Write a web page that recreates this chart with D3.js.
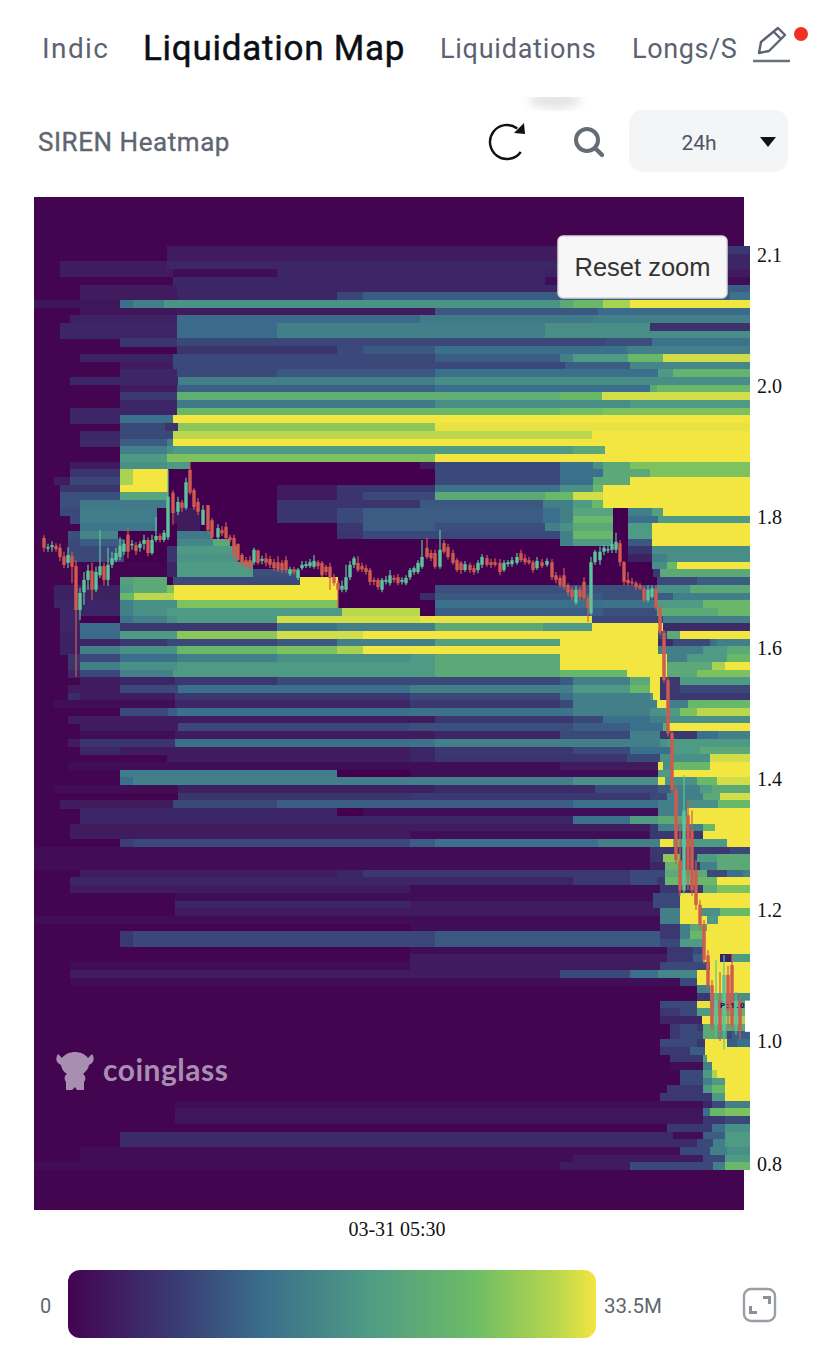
<!DOCTYPE html>
<html><head><meta charset="utf-8">
<script src="https://cdn.jsdelivr.net/npm/d3@7"></script>
<style>html,body{margin:0;padding:0;background:#fff}svg{display:block}text{font-family:Roboto,sans-serif}</style>
</head><body><svg id="c" width="828" height="1364"></svg>
<script>
// Scale end of the colour bar, in millions of USD
const maxValue = 33.5;
const colorStops = [0, 6.7, 12.4, 19.1, 25.8, 30.8, 33.5];
const colorRange = ["#430450", "#3a3a72", "#3a6e8c", "#4f9b84", "#6dbc66", "#b5d64e", "#f3e640"];
const rowCount = 120;
const slotCount = 716;
// y axis labels and the price-level row they sit on
const tickLabels = ["2.1", "2.0", "1.8", "1.6", "1.4", "1.2", "1.0", "0.8"];
const tickRows = [1, 18, 35, 52, 69, 86, 103, 119];
const timeLabel = "03-31 05:30";
const tabs = ["Indic", "Liquidation Map", "Liquidations", "Longs/Sl"];
// Liquidation value per price level: [start time slot, value in M] runs, top row first
const heatRows = [
[[133,3],[693,6.5]],
[[133,3],[693,4.5]],
[[26,3],[133,4.5]],
[[26,3],[139,1.5],[243,4.5],[511,4],[693,3]],
[[139,4.5],[511,1.5],[693,1.5]],
[[46,3],[143,4.5],[624,8.5],[693,10.5]],
[[46,3],[144,4.5],[303,8],[329,10.5],[696,13]],
[[0,2],[86,12.5],[99,15],[130,18],[526,22],[539,25],[569,30],[596,33.5]],
[[46,2],[143,3],[401,10],[564,12]],
[[36,4],[143,12],[386,14],[559,15]],
[[26,4.5],[143,12],[243,15],[511,17],[616,5.5]],
[[26,4.5],[143,12],[243,15],[511,17]],
[[86,6],[143,8],[571,9],[618,13]],
[[143,6],[303,8.5],[329,10],[401,12.5],[593,15]],
[[46,3.5],[139,8.5],[401,10.5],[526,15],[539,19],[594,25],[629,32]],
[[86,3],[139,8.5],[531,10.5],[596,16]],
[[86,4.5],[143,8.5],[243,10],[401,12.5],[624,19],[639,24]],
[[36,4.5],[144,15],[401,17]],
[[86,3],[143,11],[401,12.5],[616,22],[623,25]],
[[86,6.5],[143,23],[526,25],[568,32]],
[[86,4.5],[143,14],[401,17],[596,19]],
[[36,4.5],[143,25],[526,26],[569,27]],
[[36,4.5],[86,12.5],[139,33.5]],
[[86,8.5],[131,6],[144,28],[401,33]],
[[46,4.5],[86,8.5],[139,31],[558,33.5]],
[[46,5],[86,10.5],[133,15],[139,33.5]],
[[86,15],[133,17.5],[139,19],[539,22],[571,33.5]],
[[86,19],[133,27],[401,33.5]],
[[36,3],[86,17.5],[133,19],[156,0],[386,3],[401,8.5],[526,12.5],[559,17.5],[569,22],[596,27]],
[[36,6],[86,30],[99,33.5],[134,0],[401,8.5],[526,12.5],[569,22],[616,27]],
[[20,3],[36,8],[86,30],[99,33.5],[134,0],[401,8.5],[526,12.5],[559,22],[596,33.5]],
[[26,6],[86,33.5],[134,0],[243,3],[303,6],[401,13],[526,17.5],[559,25],[569,33.5]],
[[26,9],[86,21],[134,0],[243,3],[303,6],[329,8.5],[401,22],[511,25],[539,32],[569,33.5]],
[[26,9],[46,14],[134,0],[243,6],[386,10],[509,15],[539,19],[558,25],[569,33.5]],
[[26,8.5],[46,14.5],[123,0],[140,3],[166,0],[243,6],[303,8.5],[329,10.5],[509,12.5],[526,15],[539,21],[579,0],[594,15],[618,20],[629,33.5]],
[[36,8.5],[46,14.5],[123,0],[140,3],[166,0],[243,6],[303,8.5],[329,10.5],[509,12.5],[526,15],[539,25],[579,0],[594,12.5],[624,19]],
[[46,13.5],[123,0],[143,3],[166,0],[303,6.5],[329,10.5],[401,9],[511,15],[526,17.5],[539,22],[579,0],[594,19],[618,33.5]],
[[34,9],[46,15.5],[84,0],[143,14],[178,0],[303,6],[329,8.5],[526,15],[539,25],[579,0],[594,19],[618,33.5]],
[[34,8.5],[46,10.5],[90,0],[143,16],[179,22],[196,0],[526,15],[539,19],[579,0],[594,10],[618,33.5]],
[[34,8.5],[90,0],[133,6],[143,19],[203,0],[594,6],[618,17]],
[[34,8.5],[90,0],[133,6],[143,18],[203,0],[594,4],[618,15],[633,17]],
[[133,4.5],[143,19],[219,0],[618,17],[633,25],[643,33.5]],
[[133,4.5],[143,19],[219,9],[266,0],[619,6.5],[626,22]],
[[86,20],[99,22],[133,0],[139,8.5],[266,33.5],[304,0],[623,8.5],[663,10.5]],
[[20,3.5],[86,19],[99,22],[133,27],[140,33.5],[304,0],[401,9],[623,17.5],[656,22]],
[[20,3.5],[86,25],[100,31],[140,33.5],[304,0],[386,5],[401,10],[569,9],[624,10.5],[639,15]],
[[20,4.5],[86,15],[99,17.5],[143,27],[304,0],[401,12.5],[569,13],[623,19],[669,25]],
[[26,4.5],[86,15],[99,17.5],[133,19],[308,31],[386,0],[401,10.5],[569,9],[623,22],[684,25]],
[[26,4.5],[46,0],[86,13],[99,15],[133,17.5],[143,19],[243,32],[386,33],[558,8],[629,15]],
[[26,4.5],[46,12],[86,6.5],[243,13],[303,15],[401,22],[509,19],[558,33.5],[629,5]],
[[26,3.5],[46,12],[86,19],[143,28],[243,32],[329,33.5],[624,8],[633,22],[646,33.5]],
[[26,3.5],[46,4.5],[86,6.5],[133,8.5],[243,10],[303,15],[401,20],[526,33.5],[624,5],[639,8.5],[676,12.5],[683,15]],
[[26,4],[46,15],[86,17.5],[143,25],[243,27],[303,30],[329,33.5],[624,15],[669,19],[693,22]],
[[34,6],[46,8.5],[86,12.5],[143,15],[243,17.5],[376,19],[401,22],[526,33.5],[633,15],[653,19],[693,25]],
[[34,6],[46,15],[86,17.5],[143,19],[401,22],[526,33.5],[633,22],[678,30],[691,33.5]],
[[34,4.5],[46,8.5],[86,15],[139,19],[401,22],[526,25],[593,33.5],[633,22],[663,27]],
[[46,3],[86,4.5],[141,6.5],[243,8.5],[526,10.5],[539,15],[596,22],[616,33.5],[626,6.5],[646,19]],
[[34,3],[86,8.5],[144,12.5],[376,15],[539,19],[596,25],[616,33.5],[626,6.5],[646,8]],
[[34,5],[46,3],[141,6.5],[376,8.5],[526,12.5],[539,15],[616,17.5],[619,33.5],[626,6.5]],
[[20,1.5],[141,4.5],[376,6.5],[526,8.5],[539,15],[623,33.5],[633,15],[654,25]],
[[86,8.5],[134,10.5],[143,12.5],[376,13],[539,15],[616,17.5],[631,19],[646,27],[663,31]],
[[34,3],[401,6.5],[539,8.5],[569,12.5],[616,15],[633,17.5]],
[[46,3],[144,8.5],[376,9],[539,10.5],[596,12.5],[629,22],[633,33.5]],
[[46,1.5],[141,3],[401,4.5],[526,8.5],[596,15],[626,6.5],[663,12.5],[684,15]],
[[34,3],[46,6],[141,12.5],[376,13],[401,15],[626,17.5],[633,19]],
[[46,4.5],[86,3],[376,4.5],[401,6.5],[539,8.5],[596,12.5],[639,19],[666,22]],
[[133,3],[376,4.5],[401,6],[593,8.5],[626,17.5],[676,32]],
[[34,1.5],[526,3],[624,33],[629,17],[639,25],[676,33.5]],
[[86,14.5],[303,0],[376,1.5],[624,19],[639,33.5]],
[[86,12.5],[99,15],[539,17.5],[624,33],[631,17.5],[663,25],[683,32]],
[[20,1],[144,4],[401,5],[561,8.5],[624,10.5],[639,15],[666,19],[678,22]],
[[144,6],[376,6.5],[616,8.5],[633,15],[669,22],[686,32]],
[[26,3],[139,8.5],[243,10.5],[539,12.5],[624,15],[653,17.5],[684,25]],
[[46,4.5],[303,0],[329,1.5],[624,15],[653,33.5]],
[[46,4.5],[539,12.5],[596,19],[624,22],[653,33.5]],
[[36,3],[616,6.5],[624,15],[669,25],[681,33.5]],
[[36,3],[376,1.5],[616,6.5],[669,33.5]],
[[86,7],[99,8.5],[376,10.5],[401,12.5],[564,15],[626,33.5],[639,25],[646,19],[693,33.5]],
[[0,1],[616,6.5],[696,8.5]],
[[0,1],[616,6],[629,28],[646,6.5],[663,19],[683,22]],
[[0,1],[616,4.5],[631,24],[648,6.5],[666,15],[683,22]],
[[46,3],[303,4.5],[329,6.5],[596,8.5],[631,22],[673,8.5],[693,12.5],[709,15]],
[[36,4.5],[539,6.5],[596,8.5],[623,6.5],[631,25],[683,33.5]],
[[36,3],[376,1.5],[626,6.5],[669,22],[683,27]],
[[141,1.5],[619,8.5],[646,33.5]],
[[141,4.5],[376,3],[619,8.5],[646,33.5]],
[[141,3],[626,15],[646,33.5],[666,17.5],[686,25]],
[[0,1],[376,1.5],[626,15],[646,33.5],[673,19],[684,33.5]],
[[376,1.5],[626,6.5],[646,15],[656,22],[673,33.5]],
[[86,6.5],[99,8],[401,10],[626,6.5],[646,15],[656,25],[669,33.5]],
[[86,6.5],[99,8],[401,10],[626,8.5],[646,19],[669,33.5]],
[[376,1.5],[633,6.5],[659,8.5],[669,33.5]],
[[376,3],[633,6.5],[659,10.5],[669,33.5],[686,4],[698,19]],
[[36,1.5],[376,3],[626,8.5],[676,33.5]],
[[36,3],[526,8.5],[596,12.5],[624,16],[663,33.5]],
[[36,1.5],[646,8.5],[663,33.5]],
[[663,15],[676,33.5]],
[[663,6.5],[676,22],[693,17]],
[[626,8.5],[663,33],[676,20],[711,null]],
[[626,6.5],[646,8.5],[663,19],[676,24],[711,null]],
[[626,4.5],[668,33.5],[676,30],[711,null]],
[[636,6.5],[646,8.5],[663,6.5],[669,22],[711,null]],
[[636,6.5],[646,8.5],[669,22],[683,19],[693,8],[698,10.5]],
[[626,8.5],[663,6.5],[671,33.5],[693,10.5],[703,12.5]],
[[626,6.5],[656,10.5],[671,33.5]],
[[636,6.5],[669,19],[673,33.5]],
[[636,0.5],[669,15],[678,33.5]],
[[646,8.5],[669,19],[678,30],[683,33.5]],
[[646,8.5],[669,15],[678,19],[691,33.5]],
[[633,6.5],[669,19],[678,25],[691,33.5]],
[[626,6.5],[678,19],[691,33.5]],
[[141,1.5],[669,4.5],[678,8.5],[691,15]],
[[141,2],[669,12.5],[676,25],[691,27]],
[[141,2],[669,6.5],[691,8.5]],
[[633,6.5],[678,12.5],[691,17.5]],
[[86,5],[639,0.5],[669,10.5],[691,19]],
[[86,5],[663,8.5],[679,15],[691,19]],
[[46,1],[646,8.5],[676,15],[693,17.5]],
[[46,1.5],[539,3],[669,8.5],[691,19]],
[[0,1],[526,3],[596,8.5],[679,15],[691,25]]
];
// Price candles: [time slot, open, close, high, low]
const candles = [
[10,1.768,1.753,1.772,1.747],[14,1.753,1.754,1.759,1.747],[18,1.754,1.757,1.763,1.747],[22,1.756,1.751,1.760,1.747],
[26,1.753,1.739,1.759,1.733],[30,1.740,1.727,1.747,1.722],[34,1.730,1.742,1.754,1.722],[38,1.740,1.724,1.747,1.699],
[42,1.725,1.658,1.734,1.556],[46,1.658,1.684,1.692,1.643],[50,1.685,1.704,1.716,1.666],[54,1.704,1.718,1.727,1.689],
[58,1.718,1.689,1.730,1.673],[62,1.689,1.716,1.724,1.685],[66,1.711,1.725,1.780,1.707],[70,1.725,1.704,1.730,1.696],
[74,1.704,1.727,1.753,1.695],[78,1.727,1.737,1.747,1.722],[82,1.734,1.745,1.753,1.731],[86,1.739,1.756,1.769,1.734],
[90,1.747,1.759,1.765,1.742],[94,1.773,1.747,1.785,1.737],[98,1.757,1.759,1.765,1.750],[102,1.757,1.748,1.762,1.742],
[106,1.753,1.759,1.763,1.747],[110,1.759,1.765,1.773,1.750],[114,1.765,1.745,1.769,1.740],[118,1.745,1.765,1.773,1.742],
[122,1.765,1.771,1.800,1.762],[126,1.771,1.765,1.775,1.761],[130,1.765,1.776,1.780,1.762],[134,1.769,1.831,1.872,1.765],
[139,1.837,1.806,1.841,1.788],[144,1.808,1.823,1.831,1.803],[148,1.822,1.814,1.826,1.808],[152,1.814,1.853,1.860,1.811],
[156,1.872,1.837,1.884,1.834],[160,1.841,1.815,1.844,1.811],[164,1.823,1.808,1.829,1.803],[169,1.788,1.811,1.818,1.788],
[174,1.818,1.780,1.818,1.777],[178,1.795,1.769,1.798,1.765],[184,1.769,1.783,1.789,1.765],[188,1.780,1.775,1.786,1.771],
[192,1.785,1.768,1.792,1.763],[196,1.769,1.765,1.773,1.761],[200,1.768,1.742,1.773,1.737],[204,1.759,1.734,1.759,1.730],
[208,1.742,1.730,1.745,1.725],[212,1.734,1.725,1.739,1.721],[216,1.734,1.722,1.740,1.719],[220,1.731,1.750,1.753,1.727],
[224,1.749,1.730,1.750,1.727],[228,1.733,1.736,1.741,1.728],[232,1.737,1.730,1.745,1.725],[236,1.736,1.727,1.741,1.722],
[240,1.731,1.722,1.736,1.718],[244,1.731,1.720,1.740,1.716],[248,1.730,1.719,1.734,1.715],[252,1.734,1.719,1.740,1.714],
[256,1.713,1.720,1.724,1.710],[260,1.720,1.716,1.724,1.712],[264,1.707,1.719,1.722,1.704],[268,1.722,1.727,1.733,1.719],
[272,1.725,1.728,1.733,1.722],[276,1.725,1.731,1.736,1.722],[280,1.724,1.733,1.742,1.721],[284,1.731,1.725,1.734,1.720],
[288,1.730,1.711,1.733,1.708],[292,1.724,1.716,1.727,1.711],[296,1.724,1.707,1.730,1.689],[300,1.708,1.699,1.713,1.695],
[304,1.699,1.689,1.703,1.662],[308,1.689,1.695,1.703,1.685],[312,1.689,1.708,1.727,1.685],[316,1.708,1.727,1.733,1.704],
[320,1.727,1.737,1.740,1.722],[324,1.730,1.719,1.740,1.716],[328,1.725,1.720,1.730,1.716],[332,1.722,1.716,1.727,1.712],
[336,1.719,1.701,1.722,1.696],[340,1.704,1.701,1.708,1.696],[344,1.704,1.693,1.707,1.689],[348,1.689,1.704,1.707,1.685],
[352,1.701,1.704,1.710,1.697],[356,1.699,1.711,1.719,1.695],[360,1.707,1.704,1.711,1.700],[364,1.708,1.699,1.713,1.696],
[368,1.701,1.704,1.708,1.697],[372,1.699,1.707,1.711,1.696],[376,1.708,1.719,1.722,1.704],[380,1.716,1.722,1.725,1.712],
[384,1.716,1.730,1.734,1.713],[388,1.724,1.739,1.765,1.721],[393,1.753,1.739,1.768,1.736],[397,1.745,1.737,1.750,1.733],
[401,1.745,1.724,1.750,1.721],[406,1.724,1.750,1.780,1.721],[410,1.760,1.747,1.765,1.744],[414,1.754,1.739,1.759,1.735],
[419,1.745,1.730,1.750,1.727],[423,1.734,1.719,1.737,1.716],[427,1.730,1.719,1.733,1.713],[431,1.719,1.728,1.733,1.716],
[436,1.727,1.719,1.730,1.715],[440,1.722,1.716,1.727,1.712],[444,1.719,1.730,1.734,1.714],[448,1.727,1.739,1.743,1.722],
[453,1.737,1.727,1.742,1.724],[457,1.731,1.727,1.736,1.722],[461,1.731,1.727,1.737,1.724],[466,1.730,1.716,1.736,1.711],
[470,1.719,1.730,1.734,1.716],[474,1.728,1.731,1.734,1.724],[478,1.728,1.734,1.739,1.724],[483,1.730,1.739,1.745,1.727],
[487,1.745,1.734,1.750,1.731],[491,1.737,1.731,1.743,1.727],[495,1.734,1.730,1.739,1.727],[499,1.731,1.719,1.734,1.715],
[503,1.722,1.733,1.739,1.719],[508,1.731,1.725,1.736,1.722],[513,1.727,1.733,1.737,1.724],[518,1.731,1.708,1.736,1.704],
[522,1.711,1.704,1.716,1.699],[526,1.707,1.696,1.711,1.692],[530,1.711,1.693,1.722,1.689],[534,1.696,1.685,1.699,1.680],
[538,1.689,1.678,1.693,1.673],[542,1.669,1.689,1.695,1.666],[546,1.689,1.678,1.693,1.673],[550,1.701,1.676,1.708,1.672],
[554,1.676,1.661,1.681,1.640],[557,1.653,1.731,1.739,1.650],[561,1.731,1.747,1.750,1.727],[566,1.734,1.747,1.755,1.727],
[570,1.747,1.753,1.758,1.742],[574,1.750,1.751,1.756,1.745],[578,1.750,1.759,1.765,1.745],[582,1.750,1.762,1.776,1.745],
[586,1.760,1.731,1.765,1.725],[590,1.731,1.701,1.733,1.696],[594,1.704,1.699,1.716,1.695],[598,1.701,1.699,1.707,1.696],
[602,1.699,1.693,1.702,1.689],[606,1.696,1.691,1.699,1.688],[610,1.691,1.673,1.695,1.670],[614,1.673,1.689,1.696,1.670],
[618,1.678,1.691,1.696,1.675],[622,1.691,1.662,1.696,1.658],[626,1.662,1.623,1.665,1.620],[630,1.623,1.551,1.627,1.547],
[634,1.551,1.470,1.555,1.465],[638,1.470,1.383,1.474,1.378],[642,1.383,1.276,1.390,1.270],[646,1.276,1.230,1.337,1.222],
[650,1.230,1.352,1.406,1.224],[654,1.345,1.261,1.368,1.231],[658,1.322,1.230,1.352,1.222],[662,1.261,1.208,1.276,1.200],
[666,1.208,1.177,1.215,1.170],[670,1.177,1.124,1.185,1.118],[674,1.131,1.085,1.139,1.080],[678,1.085,1.024,1.093,1.016],
[682,1.024,1.062,1.124,1.005],[686,1.062,1.016,1.105,1.000],[690,1.016,1.101,1.131,0.987],[694,1.101,1.047,1.115,1.020],
[698,1.116,1.024,1.133,1.016],[702,1.024,1.062,1.075,1.010],[706,1.062,1.016,1.070,1.003]
];

const svg = d3.select("#c");
const color = d3.scaleLinear().domain(colorStops).range(colorRange).interpolate(d3.interpolateRgb);
const x = d3.scaleLinear().domain([0, slotCount]).range([34, 750]);
const rowY = d3.scaleBand().domain(d3.range(rowCount)).range([246, 1170]).paddingInner(0).paddingOuter(0);
const priceY = d3.scaleLinear().domain([1.8, 1.0]).range([rowY(35) + 1.5, rowY(103) + 2]);

/* ---------- header ---------- */
const tabX = [42, 143, 440, 632], tabSize = [28, 35, 27, 27], tabFill = ["#5c6370", "#0b0e14", "#5c6370", "#5c6370"];
const tabSpacing = [1.4, 0.75, 0.75, 0.6];
const defs = svg.append("defs");
defs.append("clipPath").attr("id", "tabClip").append("rect").attr("x", 0).attr("y", 0).attr("width", 739).attr("height", 100);
defs.append("filter").attr("id", "soft").append("feGaussianBlur").attr("stdDeviation", 0.55);
defs.append("filter").attr("id", "shade").append("feGaussianBlur").attr("stdDeviation", 5);
svg.append("g").attr("clip-path", "url(#tabClip)").selectAll("text").data(tabs).join("text")
  .attr("x", (d, i) => tabX[i]).attr("y", (d, i) => i === 1 ? 60 : 58)
  .attr("font-size", (d, i) => tabSize[i]).attr("font-weight", 400)
  .attr("stroke", (d, i) => i === 1 ? "#0b0e14" : "none").attr("stroke-width", 0.45)
  .attr("letter-spacing", (d, i) => tabSpacing[i])
  .attr("fill", (d, i) => tabFill[i]).text(d => d);
// pencil
svg.append("path").attr("d", "M759 53 L761 42 L778 28 L785 35 L769 51 Z M774 32 L781 39").attr("fill", "none").attr("stroke", "#5c6370").attr("stroke-width", 2.4).attr("stroke-linejoin", "round");
svg.append("line").attr("x1", 753).attr("x2", 790).attr("y1", 61).attr("y2", 61).attr("stroke", "#6b717c").attr("stroke-width", 2.6);
svg.append("circle").attr("cx", 801).attr("cy", 34).attr("r", 7).attr("fill", "#ee3124");
// faint shadow below the tabs
svg.append("ellipse").attr("cx", 555).attr("cy", 100).attr("rx", 26).attr("ry", 9).attr("fill", "#e4e4e4").attr("filter", "url(#shade)");
svg.append("rect").attr("x", 500).attr("y", 80).attr("width", 110).attr("height", 17).attr("fill", "#fff");
svg.append("text").attr("x", 38).attr("y", 151).attr("font-size", 26).attr("stroke", "#5f6670").attr("stroke-width", 0.35).attr("letter-spacing", 0.55).attr("fill", "#5f6670").text("SIREN Heatmap");
// refresh
svg.append("path").attr("d", d3.arc()({innerRadius: 17, outerRadius: 17, startAngle: 2.2, endAngle: Math.PI * 2 + 0.65})).attr("transform", "translate(507,142)").attr("fill", "none").attr("stroke", "#111").attr("stroke-width", 2.4);
svg.append("path").attr("d", "M514 133 L525 134 L524 123 Z").attr("fill", "#111");
// search
svg.append("circle").attr("cx", 587).attr("cy", 140).attr("r", 11).attr("fill", "none").attr("stroke", "#666c76").attr("stroke-width", 4);
svg.append("line").attr("x1", 595).attr("y1", 148).attr("x2", 602).attr("y2", 155).attr("stroke", "#666c76").attr("stroke-width", 4.4).attr("stroke-linecap", "round");
// range picker
svg.append("rect").attr("x", 629).attr("y", 110).attr("width", 159).attr("height", 62).attr("rx", 14).attr("fill", "#f3f5f7");
svg.append("text").attr("x", 699).attr("y", 150).attr("text-anchor", "middle").attr("font-size", 21).attr("fill", "#4f5661").text("24h");
svg.append("path").attr("d", "M760 137 L776 137 L768 147 Z").attr("fill", "#0f1115");

/* ---------- heatmap ---------- */
svg.append("rect").attr("x", 34).attr("y", 197).attr("width", 710).attr("height", 1013).attr("fill", color(0));
const cells = heatRows.flatMap((row, r) => row.map((seg, i) => ({
  r, start: seg[0], end: i + 1 < row.length ? row[i + 1][0] : slotCount, v: seg[1]
})));
const heat = svg.append("g").attr("filter", "url(#soft)");
heat.append("g").selectAll("rect").data(cells.filter(c => c.v !== null)).join("rect")
  .attr("x", d => x(d.start)).attr("y", d => rowY(d.r))
  .attr("width", d => x(d.end) - x(d.start)).attr("height", rowY.bandwidth() + 0.4)
  .attr("fill", d => color(d.v)).attr("shape-rendering", "crispEdges");
// blank notch where the heatmap stops at the last price
svg.append("g").selectAll("rect").data(cells.filter(c => c.v === null)).join("rect")
  .attr("x", d => Math.max(x(d.start), 744)).attr("y", d => rowY(d.r))
  .attr("width", d => x(d.end) - Math.max(x(d.start), 744)).attr("height", rowY.bandwidth() + 0.4).attr("fill", "#fff");

/* ---------- candles ---------- */
const up = "#5cc39a", down = "#cf5a50";
const cg = svg.append("g").attr("filter", "url(#soft)");
cg.selectAll("line").data(candles).join("line")
  .attr("x1", d => x(d[0])).attr("x2", d => x(d[0]))
  .attr("y1", d => priceY(d[3])).attr("y2", d => priceY(d[4]))
  .attr("stroke", d => d[2] >= d[1] ? up : down).attr("stroke-width", 1.2);
cg.selectAll("rect").data(candles).join("rect")
  .attr("x", d => x(d[0]) - 1.7).attr("width", 3.4)
  .attr("y", d => Math.min(priceY(d[1]), priceY(d[2])))
  .attr("height", d => Math.max(1.5, Math.abs(priceY(d[1]) - priceY(d[2]))))
  .attr("fill", d => d[2] >= d[1] ? up : down);
svg.append("text").attr("x", 720).attr("y", 1008).attr("font-size", 8).attr("font-weight", 700).attr("letter-spacing", 1.4).attr("fill", "#2a0a44").text("P:1.0");

/* ---------- y axis and time ---------- */
const yAxis = d3.axisRight(rowY).tickValues(tickRows).tickSize(0).tickPadding(0).tickFormat(r => tickLabels[tickRows.indexOf(r)]);
const yG = svg.append("g").attr("transform", "translate(757,-1.5)").call(yAxis);
yG.select(".domain").remove();
yG.selectAll("text").style("font-family", "'Liberation Serif',serif").attr("font-size", 20).attr("fill", "#111");
svg.append("text").attr("x", 397).attr("y", 1236).attr("text-anchor", "middle").style("font-family", "'Liberation Serif',serif").attr("font-size", 20).attr("fill", "#111").text(timeLabel);

/* ---------- reset zoom button ---------- */
svg.append("rect").attr("x", 558).attr("y", 236).attr("width", 169).attr("height", 62).attr("rx", 5).attr("fill", "#f7f7f7").attr("stroke", "#d8d8d8").attr("stroke-width", 1.5);
svg.append("text").attr("x", 642.5).attr("y", 276).attr("text-anchor", "middle").style("font-family", "'Liberation Sans',Arial,sans-serif").attr("font-size", 25.5).attr("fill", "#333").text("Reset zoom");

/* ---------- watermark ---------- */
svg.append("path").attr("d", "M58 1054 L62 1058 C68 1050 82 1050 88 1058 L92 1054 C95 1058 94 1063 89 1065 C88 1070 85 1072 83 1074 C86 1076 86 1080 84 1082 L84 1090 L77 1090 L75 1087 L72 1090 L66 1090 L66 1082 C64 1079 64 1076 67 1074 C64 1072 62 1070 61 1065 C56 1063 55 1058 58 1054 Z").attr("fill", "#a78fb2");
svg.append("text").attr("x", 103).attr("y", 1081).style("font-family", "Lato,sans-serif").attr("font-weight", 700).attr("font-size", 30).attr("letter-spacing", 0.5).attr("fill", "#a78fb2").text("coinglass");

/* ---------- colour bar ---------- */
const grad = defs.append("linearGradient").attr("id", "bar");
grad.selectAll("stop").data(colorStops).join("stop").attr("offset", d => d / maxValue).attr("stop-color", d => color(d));
svg.append("rect").attr("x", 68).attr("y", 1270).attr("width", 528).attr("height", 68).attr("rx", 12).attr("fill", "url(#bar)");
svg.append("text").attr("x", 40).attr("y", 1313).attr("font-size", 20).attr("fill", "#5f6670").text("0");
svg.append("text").attr("x", 604).attr("y", 1313).attr("font-size", 20.5).attr("fill", "#5f6670").text(maxValue + "M");
// expand icon
svg.append("rect").attr("x", 744).attr("y", 1289).attr("width", 31).attr("height", 32).attr("rx", 7).attr("fill", "none").attr("stroke", "#9a9ea5").attr("stroke-width", 2.4);
svg.append("path").attr("d", "M763 1296 L771 1296 L771 1304 L768 1304 L768 1299 L763 1299 Z M749 1306 L752 1306 L752 1311 L757 1311 L757 1314 L749 1314 Z").attr("fill", "#8b9098");
</script></body></html>
